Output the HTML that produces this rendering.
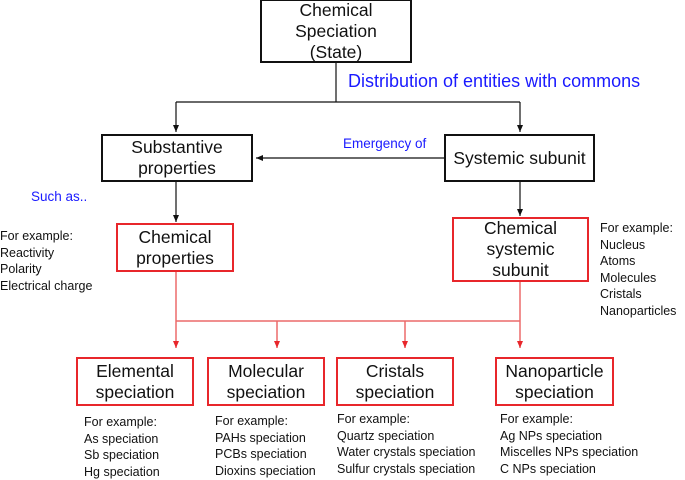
<!DOCTYPE html>
<html><head><meta charset="utf-8"><style>
body{margin:0;width:685px;height:479px;background:#fff;overflow:hidden;position:relative;font-family:"Liberation Sans",sans-serif}
.b{position:absolute;box-sizing:border-box;border:2px solid #111;display:flex;align-items:center;justify-content:center;text-align:center;font-size:17.5px;line-height:21px;color:#111}
.r{border-color:#e8262b}
.t{position:absolute;font-size:12.5px;line-height:16.5px;color:#111;white-space:nowrap}
.bl{position:absolute;color:#1a1aff;white-space:nowrap}
</style></head><body>
<svg width="685" height="479" style="position:absolute;left:0;top:0">
<defs>
<marker id="a" markerWidth="8" markerHeight="8" refX="7" refY="4" orient="auto" markerUnits="userSpaceOnUse"><path d="M0,1 L7,4 L0,7z" fill="#111"/></marker>
<marker id="ar" markerWidth="8" markerHeight="8" refX="7" refY="4" orient="auto" markerUnits="userSpaceOnUse"><path d="M0,1 L7,4 L0,7z" fill="#e8262b"/></marker>
</defs>
<g stroke="#111" stroke-width="1.2" fill="none">
<path d="M336 63 V102"/>
<path d="M176 102 H520"/>
<path d="M176 102 V132" marker-end="url(#a)"/>
<path d="M520 102 V132" marker-end="url(#a)"/>
<path d="M444 158 H256" marker-end="url(#a)"/>
<path d="M176 181 V222" marker-end="url(#a)"/>
<path d="M520 181 V216" marker-end="url(#a)"/>
</g>
<g stroke="#ec6a6a" stroke-width="1.5" fill="none">
<path d="M176 271 V321"/><path d="M520 281 V321"/><path d="M176 321 H520"/>
<path d="M176 321 V348" marker-end="url(#ar)"/>
<path d="M277 321 V348" marker-end="url(#ar)"/>
<path d="M405 321 V348" marker-end="url(#ar)"/>
<path d="M520 321 V348" marker-end="url(#ar)"/>
</g>
</svg>
<div class="b" style="left:260px;top:-1px;width:152px;height:64px">Chemical<br>Speciation<br>(State)</div>
<div class="bl" style="left:348px;top:71px;font-size:18px">Distribution of entities with commons</div>
<div class="b" style="left:101px;top:134px;width:152px;height:48px">Substantive<br>properties</div>
<div class="b" style="left:444px;top:134px;width:151px;height:48px">Systemic subunit</div>
<div class="bl" style="left:343px;top:136px;font-size:13.5px">Emergency of</div>
<div class="bl" style="left:31px;top:189px;font-size:13.5px">Such as..</div>
<div class="b r" style="left:116px;top:223px;width:118px;height:49px">Chemical<br>properties</div>
<div class="b r" style="left:452px;top:217px;width:137px;height:65px">Chemical<br>systemic<br>subunit</div>
<div class="t" style="left:0;top:228px">For example:<br>Reactivity<br>Polarity<br>Electrical charge</div>
<div class="t" style="left:600px;top:220px">For example:<br>Nucleus<br>Atoms<br>Molecules<br>Cristals<br>Nanoparticles</div>
<div class="b r" style="left:76px;top:357px;width:118px;height:49px">Elemental<br>speciation</div>
<div class="b r" style="left:207px;top:357px;width:118px;height:49px">Molecular<br>speciation</div>
<div class="b r" style="left:336px;top:357px;width:118px;height:49px">Cristals<br>speciation</div>
<div class="b r" style="left:495px;top:357px;width:119px;height:49px">Nanoparticle<br>speciation</div>
<div class="t" style="left:84px;top:414px">For example:<br>As speciation<br>Sb speciation<br>Hg speciation</div>
<div class="t" style="left:215px;top:413px">For example:<br>PAHs speciation<br>PCBs speciation<br>Dioxins speciation</div>
<div class="t" style="left:337px;top:411px">For example:<br>Quartz speciation<br>Water crystals speciation<br>Sulfur crystals speciation</div>
<div class="t" style="left:500px;top:411px">For example:<br>Ag NPs speciation<br>Miscelles NPs speciation<br>C NPs speciation</div>
</body></html>
